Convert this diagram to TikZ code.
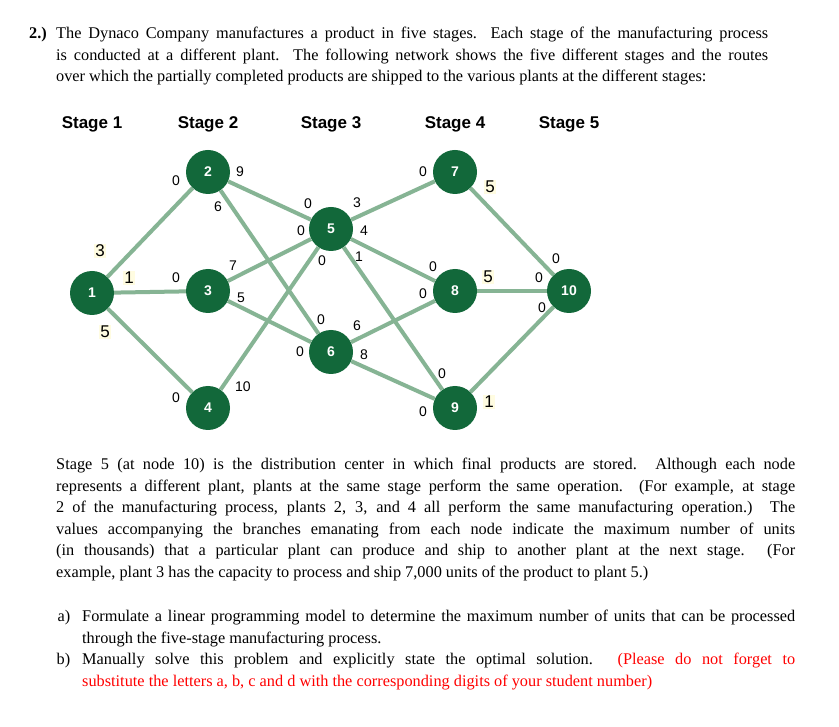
\documentclass[tikz,border=0pt]{standalone}
\usepackage{fontspec}
\setmainfont{Liberation Serif}
\newfontfamily\arial{Liberation Sans}
\begin{document}
\begin{tikzpicture}[x=1pt,y=-1pt,
  nd/.style={circle,fill={rgb,255:red,18;green,104;blue,58},text=white,font=\arial\bfseries\fontsize{14}{14}\selectfont,minimum size=44pt,inner sep=0pt},
  ed/.style={line width=4pt,draw={rgb,255:red,134;green,180;blue,148}},
  lb/.style={font=\arial\fontsize{14}{14}\selectfont,inner sep=0pt},
  hl/.style={font=\arial\fontsize{17}{17}\selectfont,inner sep=1pt,fill={rgb,255:red,255;green,252;blue,225}},
  st/.style={font=\arial\bfseries\fontsize{17}{17}\selectfont,inner sep=0pt},
  para/.style={anchor=north west,inner sep=0pt,text width=739pt,align=justify,font=\fontsize{16.3}{21.5}\selectfont}]
\useasboundingbox (0,0) rectangle (839,727);
\fill[white] (0,0) rectangle (839,727);
\node[para,anchor=north west] (p1) at (29,27) {\makebox[27pt][l]{\textbf{2.)}}The Dynaco Company manufactures a product in five stages. Each stage of the manufacturing process\linebreak
\hspace*{27pt}is conducted at a different plant. The following network shows the five different stages and the routes\linebreak
\hspace*{27pt}over which the partially completed products are shipped to the various plants at the different stages:};
\node[st] (s1) at (92,124) {Stage 1};
\node[st] (s2) at (208,124) {Stage 2};
\node[st] (s3) at (331,124) {Stage 3};
\node[st] (s4) at (455,124) {Stage 4};
\node[st] (s5) at (569,124) {Stage 5};
\node[nd] (n1) at (92,293) {1};
\node[nd] (n2) at (208,172) {2};
\node[nd] (n3) at (208,291) {3};
\node[nd] (n4) at (208,408) {4};
\node[nd] (n5) at (331,229) {5};
\node[nd] (n6) at (331,352) {6};
\node[nd] (n7) at (455,172) {7};
\node[nd] (n8) at (455,291) {8};
\node[nd] (n9) at (455,408) {9};
\node[nd] (n10) at (569,291) {10};
\foreach \a/\b in {1/2,1/3,1/4,2/5,2/6,3/5,3/6,4/5,5/7,5/8,5/9,6/8,6/9,7/10,8/10,9/10}
  \draw[ed] (n\a) -- (n\b);
\node[hl] (l13a) at (100,251) {3};
\node[hl] (l13b) at (129,278) {1};
\node[hl] (l14) at (105,332) {5};
\node[lb] (a1) at (176,181) {0};
\node[lb] (a2) at (240,172) {9};
\node[lb] (a3) at (218,207) {6};
\node[lb] (a4) at (176,278) {0};
\node[lb] (a5) at (233,266) {7};
\node[lb] (a6) at (241,298) {5};
\node[lb] (a7) at (176,398) {0};
\node[lb] (a8) at (243,387) {10};
\node[lb] (b1) at (308,204) {0};
\node[lb] (b2) at (301,231) {0};
\node[lb] (b3) at (322,261) {0};
\node[lb] (b4) at (357,203) {3};
\node[lb] (b5) at (364,231) {4};
\node[lb] (b6) at (359,257) {1};
\node[lb] (c1) at (321,320) {0};
\node[lb] (c2) at (300,352) {0};
\node[lb] (c3) at (357,326) {6};
\node[lb] (c4) at (364,355) {8};
\node[lb] (d1) at (423,172) {0};
\node[hl] (d2) at (490,187) {5};
\node[lb] (d3) at (433,267) {0};
\node[lb] (d4) at (423,294) {0};
\node[hl] (d5) at (488,277) {5};
\node[lb] (d6) at (442,374) {0};
\node[lb] (d7) at (423,412) {0};
\node[hl] (d8) at (489,402) {1};
\node[lb] (e1) at (556,259) {0};
\node[lb] (e2) at (539,278) {0};
\node[lb] (e3) at (542,308) {0};
\node[para] (p2) at (56,458) {Stage 5 (at node 10) is the distribution center in which final products are stored. Although each node\linebreak
represents a different plant, plants at the same stage perform the same operation. (For example, at stage\linebreak
2 of the manufacturing process, plants 2, 3, and 4 all perform the same manufacturing operation.) The\linebreak
values accompanying the branches emanating from each node indicate the maximum number of units\linebreak
(in thousands) that a particular plant can produce and ship to another plant at the next stage. (For\linebreak
example, plant 3 has the capacity to process and ship 7,000 units of the product to plant 5.)};
\node[para,text width=713pt] (p3) at (82,610) {\llap{a)\hspace{12pt}}Formulate a linear programming model to determine the maximum number of units that can be processed through the five-stage manufacturing process.\\
\llap{b)\hspace{12pt}}Manually solve this problem and explicitly state the optimal solution. \textcolor{red}{(Please do not forget to\linebreak
substitute the letters a, b, c and d with the corresponding digits of your student number)}};
\end{tikzpicture}
\end{document}
